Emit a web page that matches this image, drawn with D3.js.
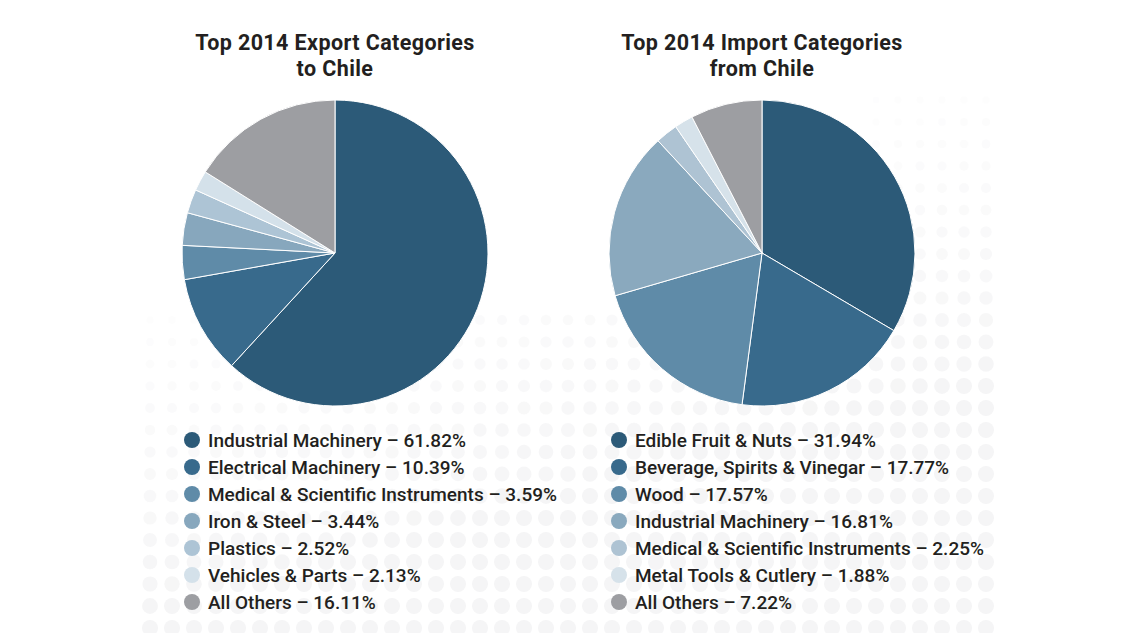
<!DOCTYPE html>
<html>
<head>
<meta charset="utf-8">
<script src="https://cdn.jsdelivr.net/npm/d3@7"></script>
<style>
  body { margin: 0; background: #fff; }
  svg { display: block; font-family: Roboto, "Open Sans", sans-serif; }
</style>
</head>
<body>
<div class="chart"></div>
<script>
// export data
var exportLabels = ["Industrial Machinery", "Electrical Machinery", "Medical & Scientific Instruments",
                    "Iron & Steel", "Plastics", "Vehicles & Parts", "All Others"];
var exportValues = [61.82, 10.39, 3.59, 3.44, 2.52, 2.13, 16.11];
var exportColors = ["#2c5a78", "#386a8c", "#5f8ba8", "#87a7bd", "#adc4d5", "#d4e1ea", "#9d9ea2"];

// import data
var importLabels = ["Edible Fruit & Nuts", "Beverage, Spirits & Vinegar", "Wood",
                    "Industrial Machinery", "Medical & Scientific Instruments", "Metal Tools & Cutlery", "All Others"];
var importValues = [31.94, 17.77, 17.57, 16.81, 2.25, 1.88, 7.22];
var importColors = ["#2c5a78", "#386a8c", "#5f8ba8", "#8aa9be", "#aec3d3", "#d6e2ea", "#9d9ea2"];

var titles = [["Top 2014 Export Categories", "to Chile"], ["Top 2014 Import Categories", "from Chile"]];

var w = 1122;
var h = 633;

var svg = d3.select(".chart")
            .append("svg")
            .attr("width", w)
            .attr("height", h);

// faint dotted background
var dots = svg.append("g").attr("class", "dots");
var step = 22;
for (var gx = 150; gx < 1007; gx += step) {
    for (var gy = 100; gy < h + step; gy += step) {
        var t = Math.min(1, Math.max(0, (gy - 280) / 330 + (gx - 150) / 1200));
        var r = 3 + 5 * t;
        var op = 0.1 + 0.9 * t;
        if (gy < 300 && gx < 860) continue;
        dots.append("circle")
            .attr("cx", gx)
            .attr("cy", gy)
            .attr("r", r)
            .attr("fill", "#f5f5f6")
            .attr("opacity", op);
    }
}
// clip dots at right edge
svg.append("rect").attr("x", 1007).attr("y", 0).attr("width", w - 1007).attr("height", h).attr("fill", "#fff");

function drawPie(cx, title, labels, values, colors) {
    var radius = 153;
    var cy = 253;
    var g = svg.append("g").attr("transform", "translate(" + cx + "," + cy + ")");

    var pie = d3.pie().sort(null).value(function(d) { return d; });
    var arc = d3.arc().innerRadius(0).outerRadius(radius);

    g.selectAll("path")
        .data(pie(values))
        .enter()
        .append("path")
        .attr("d", arc)
        .attr("fill", function(d, i) { return colors[i]; })
        .attr("stroke", "#fff")
        .attr("stroke-width", 1);

    svg.selectAll(null)
        .data(title)
        .enter()
        .append("text")
        .attr("x", cx)
        .attr("y", function(d, i) { return 50 + i * 26; })
        .attr("text-anchor", "middle")
        .attr("font-size", 21.5)
        .attr("font-weight", 700)
        .attr("letter-spacing", 0.4)
        .attr("fill", "#231f20")
        .text(function(d) { return d; });

    var lx = cx - 143;
    var legend = svg.append("g").attr("transform", "translate(" + lx + ",440)");
    var rowY = d3.scaleLinear().domain([0, 1]).range([0, 27]);

    legend.selectAll("circle")
        .data(values)
        .enter()
        .append("circle")
        .attr("cx", 0)
        .attr("cy", function(d, i) { return rowY(i); })
        .attr("r", 8)
        .attr("fill", function(d, i) { return colors[i]; });

    legend.selectAll("text")
        .data(values)
        .enter()
        .append("text")
        .attr("x", 16)
        .attr("y", function(d, i) { return rowY(i) + 7; })
        .attr("font-size", 19)
        .attr("font-weight", 500)
        .attr("fill", "#231f20")
        .text(function(d, i) { return labels[i] + " \u2013 " + d.toFixed(2) + "%"; });
}

drawPie(335, titles[0], exportLabels, exportValues, exportColors);
drawPie(762, titles[1], importLabels, importValues, importColors);
</script>
</body>
</html>
